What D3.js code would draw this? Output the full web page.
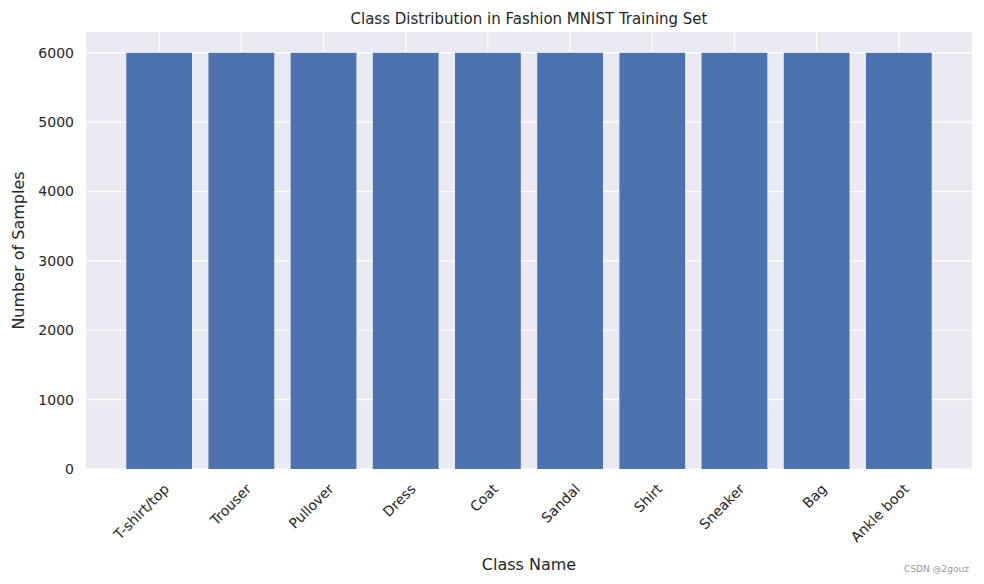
<!DOCTYPE html>
<html><head><meta charset="utf-8">
<script src="https://cdn.jsdelivr.net/npm/d3@7"></script>
<style>body{margin:0;background:#fff;font-family:"DejaVu Sans",sans-serif}</style>
</head><body><svg id="c" width="984" height="584"></svg>
<script>
const categories=["T-shirt/top","Trouser","Pullover","Dress","Coat","Sandal","Shirt","Sneaker","Bag","Ankle boot"];
const counts=[6000,6000,6000,6000,6000,6000,6000,6000,6000,6000];
const yTicks=[0,1000,2000,3000,4000,5000,6000];
const svg=d3.select("#c");
const L=86,R=972,T=32,B=469;
const x=d3.scaleLinear().domain([-0.89,9.89]).range([L,R]);
const y=d3.scaleLinear().domain([0,6300]).range([B,T]);
svg.append("rect").attr("x",L).attr("y",T).attr("width",R-L).attr("height",B-T).attr("fill","#eaeaf2");
const g=svg.append("g");
yTicks.forEach(t=>g.append("line").attr("x1",L).attr("x2",R).attr("y1",y(t)).attr("y2",y(t)).attr("stroke","#fff").attr("stroke-width",1.2));
categories.forEach((c,i)=>g.append("line").attr("x1",x(i)).attr("x2",x(i)).attr("y1",T).attr("y2",B).attr("stroke","#fff").attr("stroke-width",1.2));
const bw=x(0.8)-x(0);
svg.selectAll(".bar").data(counts).enter().append("rect")
 .attr("x",(d,i)=>x(i)-bw/2).attr("width",bw).attr("y",d=>y(d)).attr("height",d=>B-y(d)).attr("fill","#4c72b0");
yTicks.forEach(t=>svg.append("text").attr("x",L-12).attr("y",y(t)).attr("dy","0.35em").attr("text-anchor","end").attr("font-size",14).attr("fill","#262626").text(t));
categories.forEach((c,i)=>svg.append("text").attr("transform",`translate(${x(i)+4},${B+14}) rotate(-45)`).attr("text-anchor","end").attr("dy","0.7em").attr("font-size",14).attr("fill","#262626").text(c));
svg.append("text").attr("x",(L+R)/2).attr("y",24).attr("text-anchor","middle").attr("font-size",15).attr("fill","#262626").text("Class Distribution in Fashion MNIST Training Set");
svg.append("text").attr("x",(L+R)/2).attr("y",570).attr("text-anchor","middle").attr("font-size",16).attr("fill","#262626").text("Class Name");
svg.append("text").attr("transform",`translate(24,${(T+B)/2}) rotate(-90)`).attr("text-anchor","middle").attr("font-size",16).attr("fill","#262626").text("Number of Samples");
svg.append("text").attr("x",969).attr("y",572).attr("text-anchor","end").attr("font-size",9).attr("fill","#999").text("CSDN @2gouz");
</script></body></html>
